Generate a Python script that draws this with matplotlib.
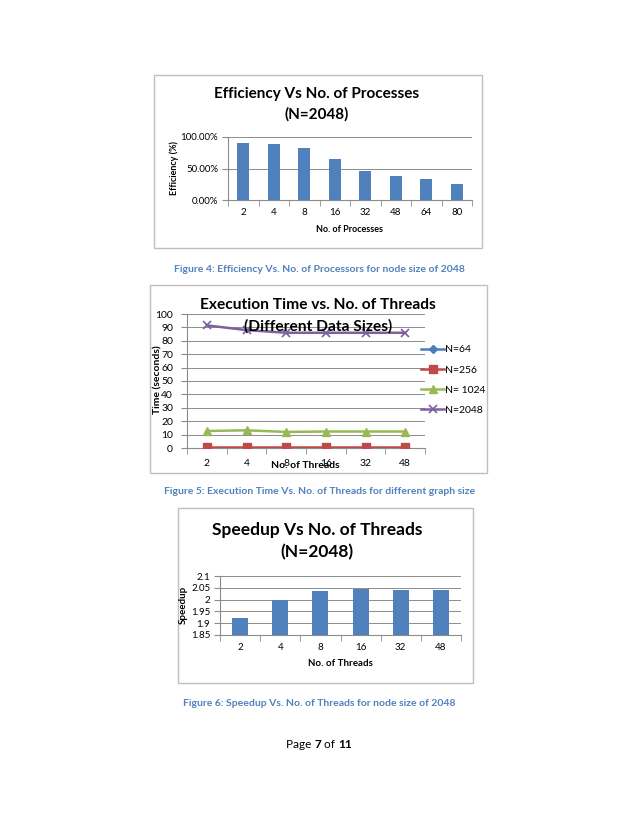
import matplotlib
matplotlib.use("Agg")
import matplotlib.pyplot as plt
from matplotlib.patches import Rectangle
from matplotlib.ticker import FuncFormatter, FixedLocator

plt.rcParams['font.family'] = ['Lato', 'DejaVu Sans']

# ---------------- data ----------------
procs = ['2', '4', '8', '16', '32', '48', '64', '80']
efficiency = [0.91, 0.884, 0.826, 0.658, 0.453, 0.379, 0.326, 0.247]

threads = ['2', '4', '8', '16', '32', '48']
time_n64 = [0.1, 0.1, 0.1, 0.1, 0.1, 0.1]
time_n256 = [0.5, 0.5, 0.5, 0.5, 0.5, 0.5]
time_n1024 = [12.7, 13.2, 12.0, 12.3, 12.3, 12.3]
time_n2048 = [91.5, 88.0, 86.0, 86.0, 86.0, 86.0]
series_labels = ['N=64', 'N=256', 'N= 1024', 'N=2048']

speedup_threads = ['2', '4', '8', '16', '32', '48']
speedup = [1.923, 1.998, 2.036, 2.044, 2.042, 2.039]

W, H = 638, 826
fig = plt.figure(figsize=(W / 100, H / 100), dpi=100)
fig.patch.set_facecolor('white')


def fx(x):
    return x / W


def fy(y):
    return 1 - y / H


def add_ax(x0, y0, x1, y1):
    return fig.add_axes([fx(x0), fy(y1), (x1 - x0) / W, (y1 - y0) / H])


def box(x0, y0, x1, y1):
    fig.patches.append(Rectangle((fx(x0), fy(y1)), (x1 - x0) / W, (y1 - y0) / H,
                                 transform=fig.transFigure, fill=False,
                                 edgecolor='#BFBFBF', linewidth=1.0, zorder=0))


def style_axis(ax, ncat, grid_color='#8C8C8C'):
    for s in ['top', 'right']:
        ax.spines[s].set_visible(False)
    for s in ['left', 'bottom']:
        ax.spines[s].set_color('#8C8C8C')
        ax.spines[s].set_linewidth(0.8)
    ax.yaxis.grid(True, color=grid_color, linewidth=0.7)
    ax.set_axisbelow(True)
    ax.set_xlim(-0.5, ncat - 0.5)
    ax.xaxis.set_minor_locator(FixedLocator([i - 0.5 for i in range(ncat + 1)]))
    ax.tick_params(axis='x', which='major', length=0, pad=6, labelsize=7, colors='black')
    ax.tick_params(axis='x', which='minor', length=4, color='#8C8C8C', direction='out')
    ax.tick_params(axis='y', length=4, color='#8C8C8C', direction='out', labelsize=7, pad=3)


blue_bar = '#4F81BD'
cap_color = '#4F81BD'

# ---------------- chart 1 ----------------
box(154, 75, 482, 248)
ax1 = add_ax(228, 137, 472, 200)
x1 = list(range(len(procs)))
ax1.bar(x1, efficiency, width=0.4, color=blue_bar, zorder=3)
style_axis(ax1, len(procs))
ax1.set_ylim(0, 1.0)
ax1.set_yticks([0, 0.5, 1.0])
ax1.yaxis.set_major_formatter(FuncFormatter(lambda v, p: f"{v * 100:.2f}%"))
ax1.set_xticks(x1)
ax1.set_xticklabels(procs)
fig.text(fx(317), fy(94), 'Efficiency Vs No. of Processes', ha='center', va='center',
         fontsize=11, fontweight='bold')
fig.text(fx(317), fy(114), '(N=2048)', ha='center', va='center', fontsize=11, fontweight='bold')
fig.text(fx(174), fy(168), 'Efficiency (%)', rotation=90, ha='center', va='center',
         fontsize=6.5, fontweight='bold')
fig.text(fx(350), fy(229), 'No. of Processes', ha='center', va='center',
         fontsize=6.5, fontweight='bold')
fig.text(fx(319), fy(269), 'Figure 4: Efficiency Vs. No. of Processors for node size of 2048',
         ha='center', va='center', fontsize=7.5, fontweight='bold', color=cap_color)

# ---------------- chart 2 ----------------
box(150, 285, 487, 473)
ax2 = add_ax(187, 314, 425, 448)
x2 = list(range(len(threads)))
ax2.plot(x2, time_n64, color='#4A7EBB', marker='D', markersize=4, linewidth=1.8,
         label=series_labels[0], zorder=3)
ax2.plot(x2, time_n256, color='#BE4B48', marker='s', markersize=6, linewidth=1.8,
         label=series_labels[1], zorder=4)
ax2.plot(x2, time_n1024, color='#98B954', marker='^', markersize=6, linewidth=1.8,
         label=series_labels[2], zorder=3)
ax2.plot(x2, time_n2048, color='#7D60A0', marker='x', markersize=6, markeredgewidth=1.2,
         linewidth=1.8, label=series_labels[3], zorder=3)
style_axis(ax2, len(threads))
ax2.set_ylim(0, 100)
ax2.set_yticks(range(0, 101, 10))
ax2.set_xticks(x2)
ax2.set_xticklabels(threads)
ax2.tick_params(axis='y', labelsize=7.5, pad=6)
ax2.tick_params(axis='x', which='major', labelsize=7.5, pad=8)
leg = ax2.legend(loc='center left', bbox_to_anchor=(fx(416), fy(380)),
                 bbox_transform=fig.transFigure, frameon=False, fontsize=7.5,
                 handlelength=2.2, handletextpad=0.1, labelspacing=1.05, borderpad=0)
fig.text(fx(318), fy(305), 'Execution Time vs. No. of Threads', ha='center', va='center',
         fontsize=11.2, fontweight='bold')
fig.text(fx(318), fy(326), '(Different Data Sizes)', ha='center', va='center',
         fontsize=11.2, fontweight='bold')
fig.text(fx(158), fy(380), 'Time (seconds)', rotation=90, ha='center', va='center',
         fontsize=7.5, fontweight='bold')
fig.text(fx(305), fy(466), 'No. of Threads', ha='center', va='center',
         fontsize=7.5, fontweight='bold')
fig.text(fx(320), fy(492), 'Figure 5: Execution Time Vs. No. of Threads for different graph size',
         ha='center', va='center', fontsize=7.5, fontweight='bold', color=cap_color)

# ---------------- chart 3 ----------------
box(178, 508, 473, 683)
ax3 = add_ax(220, 576, 461, 635)
x3 = list(range(len(speedup_threads)))
ax3.bar(x3, speedup, width=0.4, color=blue_bar, zorder=3)
style_axis(ax3, len(speedup_threads))
ax3.set_ylim(1.85, 2.1)
ax3.set_yticks([1.85, 1.9, 1.95, 2.0, 2.05, 2.1])
ax3.yaxis.set_major_formatter(FuncFormatter(lambda v, p: f"{v:g}"))
ax3.set_xticks(x3)
ax3.set_xticklabels(speedup_threads)
fig.text(fx(317), fy(530), 'Speedup Vs No. of Threads', ha='center', va='center',
         fontsize=12.5, fontweight='bold')
fig.text(fx(317), fy(552), '(N=2048)', ha='center', va='center', fontsize=12.5, fontweight='bold')
fig.text(fx(183), fy(605), 'Speedup', rotation=90, ha='center', va='center',
         fontsize=7, fontweight='bold')
fig.text(fx(340), fy(664), 'No. of Threads', ha='center', va='center',
         fontsize=7, fontweight='bold')
fig.text(fx(319), fy(703), 'Figure 6: Speedup Vs. No. of Threads for node size of 2048',
         ha='center', va='center', fontsize=7.5, fontweight='bold', color=cap_color)

# ---------------- page footer ----------------
parts = [('Page ', 'normal'), ('7', 'bold'), (' of ', 'normal'), ('11', 'bold')]
renderer = fig.canvas.get_renderer()
texts = []
widths = []
for s, w in parts:
    t = fig.text(0, fy(744), s, ha='left', va='center', fontsize=8.5, fontweight=w)
    bb = t.get_window_extent(renderer=renderer)
    texts.append(t)
    widths.append(bb.width)
total = sum(widths)
xstart = 319 - total / 2
for t, w in zip(texts, widths):
    t.set_x(fx(xstart))
    xstart += w

fig.savefig('out.png', dpi=100, facecolor='white')
